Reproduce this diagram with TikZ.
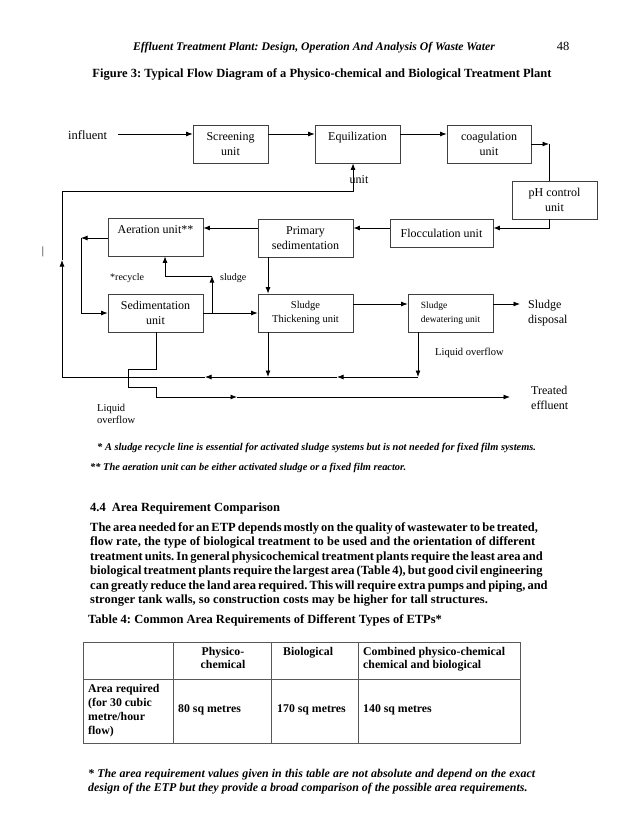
\documentclass[tikz,border=0pt]{standalone}
\usepackage{fontspec}
\setmainfont{Liberation Serif}
\usetikzlibrary{arrows.meta}
\newcommand{\fs}[2]{\fontsize{#1}{#2}\selectfont}
\frenchspacing
\begin{document}
\frenchspacing
\begin{tikzpicture}[x=1pt,y=-1pt,
  box/.style={draw=black!75, line width=0.8pt, inner sep=0pt, align=center, font=\fs{12}{15}},
  arr/.style={-{Latex[length=6.5pt,width=5pt]}, line width=0.8pt},
  ln/.style={line width=0.8pt},
  txt/.style={inner sep=0pt, anchor=base west},
  tline/.style={draw=black!65, line width=0.8pt}]
\fill[white] (0,0) rectangle (638,826);
\useasboundingbox (0,0) rectangle (638,826);

% header
\node[inner sep=0pt, anchor=base] (hdr) at (314,51) {\fs{11.7}{13}\bfseries\itshape Effluent Treatment Plant: Design, Operation And Analysis Of Waste Water};
\node[inner sep=0pt, anchor=base] (pg) at (563,51) {\fs{12.5}{14}48};
\node[inner sep=0pt, anchor=base] (cap) at (322,77.5) {\fs{12.5}{14}\bfseries Figure 3: Typical Flow Diagram of a Physico-chemical and Biological Treatment Plant};

% boxes
\node[box, minimum width=75pt, minimum height=38pt] (screen) at (230.5,144) {Screening\\unit};
\node[box, minimum width=85pt, minimum height=38pt] (equil) at (357.5,144) {Equilization\\\mbox{}};
\node[box, minimum width=84pt, minimum height=38pt] (coag) at (489,144) {coagulation\\unit};
\node[box, minimum width=85pt, minimum height=38pt] (ph) at (554.5,200) {pH control\\unit};
\node[box, minimum width=103pt, minimum height=28pt] (flocc) at (441.5,233) {Flocculation unit};
\node[box, minimum width=95pt, minimum height=38pt] (prim) at (305.5,238) {Primary\\sedimentation};
\node[box, minimum width=95pt, minimum height=38pt] (aer) at (155.5,237) {Aeration unit**\\\mbox{}};
\node[box, minimum width=95pt, minimum height=38pt] (sed) at (155.5,313) {Sedimentation\\unit};
\node[box, minimum width=95pt, minimum height=38pt, font=\fs{10.5}{14}] (thick) at (305.5,313) {Sludge\\Thickening unit};
\node[box, minimum width=85pt, minimum height=38pt, font=\fs{9.5}{14}, align=left] (dew) at (450.5,313) {Sludge\\dewatering unit};

% labels
\node[txt, font=\fs{12.5}{14}] (infl) at (68,140) {influent};
\node[inner sep=0pt, anchor=base, font=\fs{12}{14}] (unitx) at (359,184) {unit};
\node[txt, font=\fs{10}{12}] (recyc) at (110,280.5) {*recycle};
\node[txt, font=\fs{10}{12}] (sludgel) at (220,280.5) {sludge};
\node[txt, font=\fs{10.5}{12}] (liqr) at (435,355.5) {Liquid overflow};
\node[inner sep=0pt, anchor=west, align=left, font=\fs{12}{15}] (disp) at (528,313.5) {Sludge\\disposal};
\node[inner sep=0pt, anchor=west, align=left, font=\fs{12}{15}] (treat) at (531,397.5) {Treated\\effluent};
\node[inner sep=0pt, anchor=west, align=left, font=\fs{10.5}{12.5}] (liql) at (97,414) {Liquid\\overflow};
\node[inner sep=0pt, font=\fs{11}{12}] (bar) at (43,252) {|};

% connectors
\coordinate (inA) at (118,134);
\draw[arr] (inA) -- (inA -| screen.west);
\draw[arr] ([yshift=10pt]screen.east) -- ([yshift=10pt]equil.west);
\draw[arr] ([yshift=10pt]equil.east) -- ([yshift=10pt]coag.west);
\coordinate (c1) at (549,144);
\draw[arr] (coag.east) -- (c1);
\draw[ln] (c1) -- (c1 |- ph.north);
\coordinate (r1) at (549,228);
\draw[arr] (c1 |- ph.south) -- (r1) -- (r1 -| flocc.east);
\draw[arr] (flocc.west |- r1) -- (prim.east |- r1);
\draw[arr] (prim.west |- r1) -- (aer.east |- r1);
\coordinate (r2) at (81,238);
\draw[arr] (aer.west |- r2) -- (r2);
\draw[arr] (r2) |- (sed.west);
\draw[arr] (sed.east) -- (thick.west);
\coordinate (r3) at (212,276);
\draw[arr] (r3 |- sed.east) -- (r3);
\coordinate (r4) at (165,276);
\draw[arr] (r3) -- (r4) -- (r4 |- aer.south);
\coordinate (xA) at (268,377);
\draw[arr] (prim.south -| xA) -- (thick.north -| xA);
\draw[arr] (thick.south -| xA) -- (xA);
\draw[arr] ([yshift=9pt]thick.east) -- ([yshift=9pt]dew.west);
\coordinate (sd) at (520,304);
\draw[arr] ([yshift=9pt]dew.east) -- (sd);
\coordinate (r6) at (418,377);
\draw[arr] (dew.south -| r6) -- (r6);
\coordinate (m1) at (337,377);
\coordinate (m2) at (205,377);
\coordinate (m3) at (62,260);
\coordinate (m4) at (62,191);
\coordinate (m5) at (353,191);
\draw[arr] (r6) -- (m1);
\draw[arr] (m1) -- (m2);
\draw[arr] (m2) -| (m3);
\draw[arr] (m3) -- (m4) -- (m5) -- (m5 |- equil.south);
\coordinate (s1) at (156,369);
\coordinate (s2) at (128,369);
\coordinate (s3) at (128,387);
\coordinate (s4) at (156,387);
\coordinate (s5) at (156,397);
\coordinate (s6) at (237,397);
\coordinate (te) at (510,397);
\draw[arr] (sed.south -| s1) -- (s1) -- (s2) -- (s3) -- (s4) -- (s5) -- (s6);
\draw[arr] (s6) -- (te);

% footnotes of figure
\node[txt, font=\fs{10.4}{12}\bfseries\itshape] (fn1) at (97,450.5) {* A sludge recycle line is essential for activated sludge systems but is not needed for fixed film systems.};
\node[txt, font=\fs{10.4}{12}\bfseries\itshape] (fn2) at (90,470.5) {** The aeration unit can be either activated sludge or a fixed film reactor.};

% section
\node[txt, font=\fs{12.5}{14}\bfseries] (sec) at (90,511) {4.4\hspace{6pt}Area Requirement Comparison};
\node[txt, font=\fs{12.5}{14}\bfseries] (p1) at (90,531) {\makebox[445pt][s]{The area needed for an ETP depends mostly on the quality of wastewater to be treated,}};
\node[txt, font=\fs{12.5}{14}\bfseries] (p2) at (90,545.5) {\makebox[445pt][s]{flow rate, the type of biological treatment to be used and the orientation of different}};
\node[txt, font=\fs{12.5}{14}\bfseries] (p3) at (90,560) {\makebox[445pt][s]{treatment units. In general physicochemical treatment plants require the least area and}};
\node[txt, font=\fs{12.5}{14}\bfseries] (p4) at (90,574.5) {\makebox[445pt][s]{biological treatment plants require the largest area (Table 4), but good civil engineering}};
\node[txt, font=\fs{12.5}{14}\bfseries] (p5) at (90,589) {\makebox[445pt][s]{can greatly reduce the land area required. This will require extra pumps and piping, and}};
\node[txt, font=\fs{12.5}{14}\bfseries] (p6) at (90,603) {stronger tank walls, so construction costs may be higher for tall structures.};
\node[txt, font=\fs{12.5}{14}\bfseries] (tt) at (88,623) {Table 4: Common Area Requirements of Different Types of ETPs*};

% table
\draw[tline] (83,642) rectangle (520,743);
\draw[tline] (83,679) -- (520,679);
\draw[tline] (173,642) -- (173,743);
\draw[tline] (271,642) -- (271,743);
\draw[tline] (358,642) -- (358,743);
\node[inner sep=0pt, anchor=base, font=\fs{11.8}{14}\bfseries] (h1a) at (223,655) {Physico-};
\node[inner sep=0pt, anchor=base, font=\fs{11.8}{14}\bfseries] (h1b) at (223,668.5) {chemical};
\node[txt, font=\fs{11.8}{14}\bfseries] (h2) at (283,655) {Biological};
\node[txt, font=\fs{11.8}{14}\bfseries] (h3a) at (363,655) {Combined physico-chemical};
\node[txt, font=\fs{11.8}{14}\bfseries] (h3b) at (363,668.5) {chemical and biological};
\node[txt, font=\fs{11.8}{14}\bfseries] (ra) at (88,692) {Area required};
\node[txt, font=\fs{11.8}{14}\bfseries] (rb) at (88,706) {(for 30 cubic};
\node[txt, font=\fs{11.8}{14}\bfseries] (rc) at (88,720) {metre/hour};
\node[txt, font=\fs{11.8}{14}\bfseries] (rd) at (88,734) {flow)};
\node[txt, font=\fs{11.8}{14}\bfseries] (v1) at (178,712) {80 sq metres};
\node[txt, font=\fs{11.8}{14}\bfseries] (v2) at (277,712) {170 sq metres};
\node[txt, font=\fs{11.8}{14}\bfseries] (v3) at (363,712) {140 sq metres};

% final note
\node[txt, font=\fs{11.9}{14}\bfseries\itshape] (n1) at (88,777) {\makebox[447pt][s]{* The area requirement values given in this table are not absolute and depend on the exact}};
\node[txt, font=\fs{11.9}{14}\bfseries\itshape] (n2) at (88,791) {design of the ETP but they provide a broad comparison of the possible area requirements.};
\end{tikzpicture}
\end{document}
